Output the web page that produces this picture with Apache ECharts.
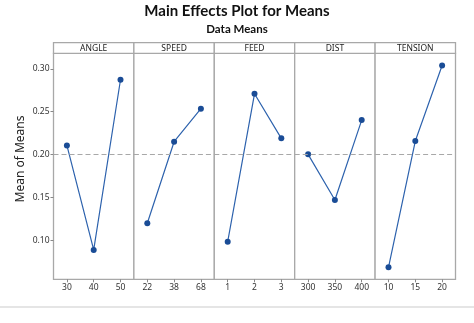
<!DOCTYPE html>
<html><head><meta charset="utf-8">
<script src="https://cdn.jsdelivr.net/npm/echarts@6/dist/echarts.min.js"></script>
<style>html,body{margin:0;padding:0;background:#fff}#c{width:474px;height:323px}</style>
</head><body><div id="c"></div>
<script>
const chartTitle = 'Main Effects Plot for Means';
const chartSubtitle = 'Data Means';
const yAxisTitle = 'Mean of Means';
const factors = ['ANGLE', 'SPEED', 'FEED', 'DIST', 'TENSION'];
const angleLevels = ['30', '40', '50'];
const speedLevels = ['22', '38', '68'];
const feedLevels = ['1', '2', '3'];
const distLevels = ['300', '350', '400'];
const tensionLevels = ['10', '15', '20'];
const angleMeans = [0.2108, 0.0892, 0.2872];
const speedMeans = [0.1202, 0.2151, 0.2535];
const feedMeans = [0.0988, 0.2709, 0.2190];
const distMeans = [0.2004, 0.1473, 0.2403];
const tensionMeans = [0.0690, 0.2159, 0.3038];
const grandMean = 0.1966;
const yTicks = [0.10, 0.15, 0.20, 0.25, 0.30];
const yMin = 0.055, yMax = 0.318;

const levels = [angleLevels, speedLevels, feedLevels, distLevels, tensionLevels];
const means = [angleMeans, speedMeans, feedMeans, distMeans, tensionMeans];

const L = 53.5, R = 455.5, T = 53.3, B = 279.3, ST = 42.7;
const W = (R - L) / 5;
const border = '#a8a8a8';
const font = 'Noto Sans';

const grid = [], xAxis = [], yAxis = [], series = [], graphic = [];
for (let i = 0; i < 5; i++) {
  grid.push({left: L + i * W, top: T, width: W, height: B - T, show: true,
    borderColor: border, borderWidth: 1.3, backgroundColor: '#fff', containLabel: false});
  grid.push({left: L + i * W, top: ST, width: W, height: T - ST, show: true,
    borderColor: border, borderWidth: 1.3, backgroundColor: '#fff', containLabel: false});
  xAxis.push({gridIndex: 2 * i, type: 'category', data: levels[i], boundaryGap: true,
    axisLine: {show: false},
    axisTick: {show: true, alignWithLabel: true, length: 3, lineStyle: {color: '#888'}},
    axisLabel: {fontSize: 8.5, color: '#333', margin: 4, fontFamily: font},
    splitLine: {show: false}});
  xAxis.push({gridIndex: 2 * i + 1, type: 'category', data: [factors[i]], show: false});
  yAxis.push({gridIndex: 2 * i, type: 'value', min: yMin, max: yMax,
    axisLine: {show: false}, splitLine: {show: false},
    axisTick: {show: i === 0, length: 3, customValues: yTicks, lineStyle: {color: '#888'}},
    axisLabel: {show: i === 0, customValues: yTicks, formatter: v => v.toFixed(2),
      fontSize: 8.5, color: '#333', margin: 4, fontFamily: font}});
  yAxis.push({gridIndex: 2 * i + 1, type: 'value', show: false});
  series.push({type: 'line', xAxisIndex: 2 * i, yAxisIndex: 2 * i, data: means[i],
    symbol: 'circle', symbolSize: 6, showSymbol: true,
    itemStyle: {color: '#1a4c96'}, lineStyle: {color: '#2d62ad', width: 1.2},
    markLine: {silent: true, symbol: 'none', label: {show: false},
      lineStyle: {color: '#a8a8a8', type: [5, 3], width: 1.2},
      data: [{yAxis: grandMean}]}});
  graphic.push({type: 'text', x: L + (i + 0.5) * W, y: (ST + T) / 2 + 0.5,
    style: {text: factors[i], align: 'center', verticalAlign: 'middle',
      font: '8.5px "Noto Sans"', fill: '#222'}});
}
graphic.push({type: 'text', x: 21, y: 159, rotation: Math.PI / 2,
  style: {text: yAxisTitle, align: 'center', verticalAlign: 'middle',
    font: '12px "Noto Sans"', fill: '#222'}});
graphic.push({type: 'line', shape: {x1: 0, y1: 307, x2: 474, y2: 307},
  style: {stroke: '#dcdcdc', lineWidth: 1.5}});

const chart = echarts.init(document.getElementById('c'));
chart.setOption({
  animation: false,
  backgroundColor: '#fff',
  title: {text: chartTitle, subtext: chartSubtitle, left: 'center', top: 0, padding: [4, 0, 0, 2],
    itemGap: 4,
    textStyle: {fontSize: 15, fontWeight: 'bold', color: '#111', fontFamily: 'Lato'},
    subtextStyle: {fontSize: 11.5, fontWeight: 'bold', color: '#111', fontFamily: 'Lato'}},
  grid, xAxis, yAxis, series, graphic
});
</script></body></html>
